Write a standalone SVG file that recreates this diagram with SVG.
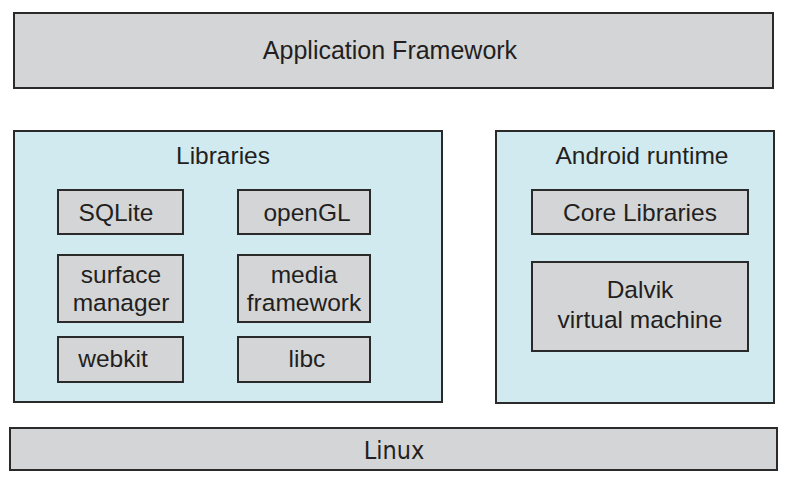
<svg xmlns="http://www.w3.org/2000/svg" width="792" height="483" viewBox="0 0 792 483">
<style>
.g{fill:#d4d5d7;stroke:#2a2a2a;stroke-width:2}
.b{fill:#d1eaf0;stroke:#2a2a2a;stroke-width:2}
text{font-family:"Liberation Sans",Arial,sans-serif;fill:#231f20;text-anchor:middle}
.t{font-size:25px}
.s{font-size:24.5px}
</style>
<rect width="792" height="483" fill="#ffffff"/>
<g id="app"><rect class="g" x="14" y="13" width="759" height="75"/><text class="t" x="390" y="59">Application Framework</text></g>
<g id="libraries"><rect class="b" x="14" y="131" width="428" height="271"/><text class="s" x="223" y="164">Libraries</text></g>
<g id="sqlite"><rect class="g" x="58" y="190" width="125" height="44"/><text class="s" x="116" y="221">SQLite</text></g>
<g id="opengl"><rect class="g" x="238" y="190" width="132" height="44"/><text class="s" x="307" y="221">openGL</text></g>
<g id="surface"><rect class="g" x="58" y="255" width="125" height="67"/><text class="s" x="121" y="283">surface</text><text class="s" x="121" y="311">manager</text></g>
<g id="media"><rect class="g" x="238" y="255" width="132" height="67"/><text class="s" x="304" y="283">media</text><text class="s" x="304" y="311">framework</text></g>
<g id="webkit"><rect class="g" x="58" y="337" width="125" height="45"/><text class="s" x="113" y="367">webkit</text></g>
<g id="libc"><rect class="g" x="238" y="337" width="132" height="45"/><text class="s" x="307" y="367">libc</text></g>
<g id="runtime"><rect class="b" x="496" y="131" width="278" height="272"/><text class="s" x="642" y="164">Android runtime</text></g>
<g id="core"><rect class="g" x="532" y="190" width="216" height="44"/><text class="s" x="640" y="221">Core Libraries</text></g>
<g id="dalvik"><rect class="g" x="532" y="262" width="216" height="89"/><text class="s" x="640" y="298">Dalvik</text><text class="s" x="640" y="328">virtual machine</text></g>
<g id="linux"><rect class="g" x="10" y="428" width="767" height="42"/><text class="t" x="394" y="459" style="font-family:'DejaVu Sans Condensed','Liberation Sans Narrow',sans-serif">Linux</text></g>
<g id="connectors"></g>
</svg>
